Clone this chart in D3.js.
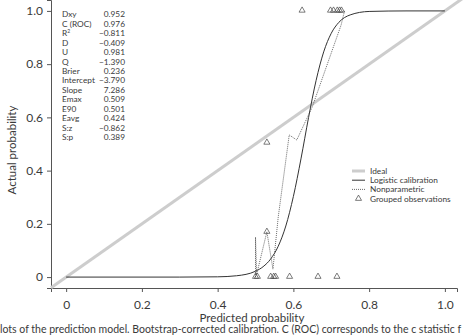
<!DOCTYPE html>
<html><head><meta charset="utf-8">
<script src="https://cdn.jsdelivr.net/npm/d3@7"></script>
<style>
body{margin:0;background:#fff;}
text{font-family:Lato,"Open Sans",sans-serif;fill:#3a3a3a;}
</style></head>
<body><svg id="c" width="474" height="335"></svg>
<script>
// ---- data ----
const xTicks = [0, 0.2, 0.4, 0.6, 0.8, 1.0];
const yTicks = [0, 0.2, 0.4, 0.6, 0.8, 1.0];
const idealLine = [[-0.04, -0.04], [1.07, 1.07]];
const logisticX = [0, 0.30, 0.40, 0.45, 0.50, 0.52, 0.54, 0.56, 0.58, 0.60, 0.62, 0.64, 0.66, 0.68, 0.70, 0.72, 0.75, 0.80, 0.90, 1.00];
const logisticY = [0, 0.000, 0.001, 0.005, 0.022, 0.039, 0.068, 0.116, 0.192, 0.303, 0.444, 0.599, 0.739, 0.846, 0.916, 0.957, 0.985, 0.998, 1.000, 1.000];
const nonparX = [0.500, 0.500, 0.503, 0.530, 0.546, 0.560, 0.589, 0.609, 0.650, 0.726, 0.735];
const nonparY = [0.000, 0.150, 0.010, 0.170, 0.030, 0.226, 0.534, 0.515, 0.640, 0.947, 1.000];
const groupX = [0.623, 0.698, 0.706, 0.716, 0.722, 0.727, 0.530, 0.530, 0.500, 0.505, 0.540, 0.548, 0.553, 0.590, 0.665, 0.715];
const groupY = [1, 1, 1, 1, 1, 1, 0.504, 0.169, 0, 0, 0, 0, 0, 0, 0, 0];
const statNames = ["Dxy", "C (ROC)", "R2", "D", "U", "Q", "Brier", "Intercept", "Slope", "Emax", "E90", "Eavg", "S:z", "S:p"];
const statValues = ["0.952", "0.976", "−0.811", "−0.409", "0.981", "−1.390", "0.236", "−3.790", "7.286", "0.509", "0.501", "0.424", "−0.862", "0.389"];
const legendLabels = ["Ideal", "Logistic calibration", "Nonparametric", "Grouped observations"];
const caption = "lots of the prediction model. Bootstrap-corrected calibration. C (ROC) corresponds to the c statistic f";

// ---- chart ----
const svg = d3.select("#c");
const x = d3.scaleLinear().domain([-0.04, 1.032]).range([51, 457]);
const y = d3.scaleLinear().domain([-0.041, 1.041]).range([288, 0]);
const fmt = d => d === 0 ? "0" : d3.format(".1f")(d);

const xAxis = svg.append("g").attr("transform", "translate(0,288)")
  .call(d3.axisBottom(x).tickValues(xTicks).tickFormat(fmt).tickSize(4).tickPadding(8));
const yAxis = svg.append("g").attr("transform", "translate(51,0)")
  .call(d3.axisLeft(y).tickValues(yTicks).tickFormat(fmt).tickSize(4).tickPadding(4));
[xAxis, yAxis].forEach(a => {
  a.selectAll("path").attr("stroke", "#555");
  a.selectAll("line").attr("stroke", "#555");
  a.selectAll("text").style("font-size", "12px").style("font-family", "Lato").attr("fill", "#3a3a3a");
});

svg.append("text").attr("x", 252).attr("y", 322).attr("text-anchor", "middle")
  .style("font-size", "11.5px").text("Predicted probability");
svg.append("text").attr("transform", "translate(16,150) rotate(-90)").attr("text-anchor", "middle")
  .style("font-size", "11.5px").text("Actual probability");

const line = d3.line().x(d => x(d[0])).y(d => y(d[1]));
svg.append("path").datum(idealLine).attr("d", line)
  .attr("stroke", "#cdcdcd").attr("stroke-width", 3).attr("fill", "none");
svg.append("path").datum(logisticX.map((v, i) => [v, logisticY[i]]))
  .attr("d", line.curve(d3.curveMonotoneX))
  .attr("stroke", "#333").attr("stroke-width", 1).attr("fill", "none");
svg.append("path").datum(nonparX.map((v, i) => [v, nonparY[i]]))
  .attr("d", d3.line().x(d => x(d[0])).y(d => y(d[1])))
  .attr("stroke", "#444").attr("stroke-width", 0.8).attr("stroke-dasharray", "1,1").attr("fill", "none");

const tri = d3.symbol().type(d3.symbolTriangle).size(16);
svg.append("g").selectAll("path").data(groupX.map((v, i) => [v, groupY[i]])).join("path")
  .attr("d", tri).attr("transform", d => `translate(${x(d[0])},${y(d[1]) - 0.5})`)
  .attr("fill", "none").attr("stroke", "#444").attr("stroke-width", 0.7);

// stats block
const st = svg.append("g").style("font-size", "8.3px");
statNames.forEach((n, i) => {
  const yy = 17.3 + i * 9.45;
  const t = st.append("text").attr("x", 62).attr("y", yy);
  if (n === "R2") { t.text("R"); t.append("tspan").attr("dy", -3).style("font-size", "5px").text("2"); }
  else t.text(n);
  st.append("text").attr("x", 125).attr("y", yy).attr("text-anchor", "end").text(statValues[i]);
});

// legend
const lg = svg.append("g").style("font-size", "8.3px");
legendLabels.forEach((l, i) => {
  const yy = 171 + i * 9.2;
  if (i === 0) lg.append("line").attr("x1", 352).attr("x2", 365).attr("y1", yy).attr("y2", yy).attr("stroke", "#cdcdcd").attr("stroke-width", 3);
  if (i === 1) lg.append("line").attr("x1", 352).attr("x2", 365).attr("y1", yy).attr("y2", yy).attr("stroke", "#333").attr("stroke-width", 1);
  if (i === 2) lg.append("line").attr("x1", 352).attr("x2", 365).attr("y1", yy).attr("y2", yy).attr("stroke", "#444").attr("stroke-width", 0.8).attr("stroke-dasharray", "1,1");
  if (i === 3) lg.append("path").attr("d", tri).attr("transform", `translate(358.5,${yy})`).attr("fill", "none").attr("stroke", "#444").attr("stroke-width", 0.7);
  lg.append("text").attr("x", 370).attr("y", yy + 3).text(l);
});

svg.append("text").attr("x", 0).attr("y", 333).style("font-size", "10.5px").text(caption);
</script></body></html>
